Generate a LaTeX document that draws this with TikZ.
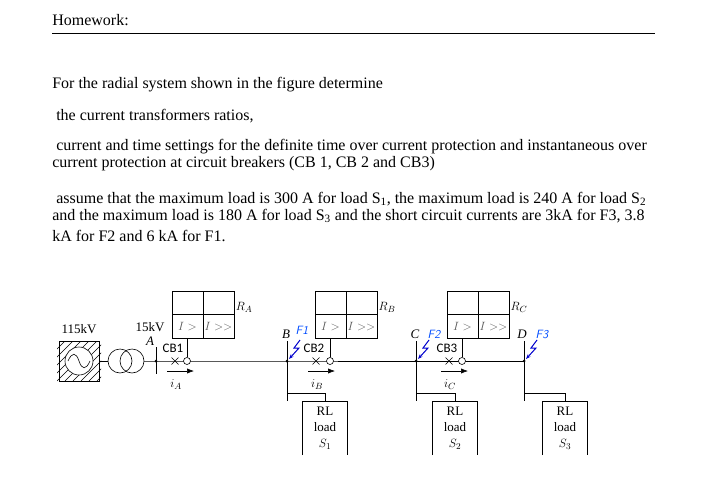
\documentclass[tikz,border=0pt]{standalone}
\usepackage{fontspec}
\setmainfont{Liberation Serif}
\newfontfamily\cbf{Carlito}
\usetikzlibrary{arrows.meta}
\begin{document}
\begin{tikzpicture}[x=1pt,y=-1pt,line width=0.6pt,
 txt/.style={anchor=west,inner sep=0,font=\fontsize{16}{18}\selectfont},
 lbl/.style={inner sep=0,font=\fontsize{13}{14}\selectfont},
 cb/.style={inner sep=0,font=\cbf\fontsize{13}{14}\selectfont},
 fl/.style={inner sep=0,text=blue!70!cyan,font=\sffamily\itshape\fontsize{12}{13}\selectfont},
 rel/.style={draw,minimum width=31,minimum height=23.5,inner sep=0,text=black!65,font=\itshape\fontsize{12}{13}\selectfont},
 load/.style={inner sep=0,align=center,font=\fontsize{13}{16}\selectfont},
 bolt/.style={blue!80!black,line width=1pt,-{Stealth[length=5pt]}},
 arr/.style={-{Latex[length=7pt]}}]
\useasboundingbox (0,0) rectangle (719,495);
\node[txt] (hw) at (52,20) {Homework:};
\draw (52,33) -- (655,33);
\node[txt] (t1) at (52,85) {For the radial system shown in the figure determine};
\node[txt] (t2) at (56,116) {the current transformers ratios,};
\node[txt] (t3) at (56,147) {current and time settings for the definite time over current protection and instantaneous over};
\node[txt] (t4) at (52,164) {current protection at circuit breakers (CB 1, CB 2 and CB3)};
\node[txt] (t5) at (56,199) {assume that the maximum load is 300 A for load S\textsubscript{1}, the maximum load is 240 A for load S\textsubscript{2}};
\node[txt] (t6) at (52,216) {and the maximum load is 180 A for load S\textsubscript{3} and the short circuit currents are 3kA for F3, 3.8};
\node[txt] (t7) at (52,236) {kA for F2 and 6 kA for F1.};
% source
\begin{scope}
\clip (57,341) rectangle (101,381);
\foreach \i in {-40,-32,...,50} \draw (57+\i,381) -- (97+\i,341);
\end{scope}
\node[draw,minimum size=40,inner sep=0] (src) at (79,361) {};
\node[circle,draw,fill=white,minimum size=28,inner sep=0] (gen) at (79,361) {};
\draw (68,361) .. controls (72,352) and (76,352) .. (79,361) .. controls (82,370) and (86,370) .. (90,361);
\node[lbl] (kv115) at (79,329) {115kV};
\node[circle,draw,minimum size=24,inner sep=0] (t1c) at (120,361) {};
\node[circle,draw,minimum size=24,inner sep=0] (t2c) at (132,361) {};
\draw (src.east) -- (t1c.west);
% buses
\coordinate (A) at (156,361); \coordinate (B) at (287,361);
\coordinate (C) at (416,361); \coordinate (D) at (524,361);
\draw (t2c.east) -- (A) -- (D);
\draw[thick] (156,347) -- (156,374);
\foreach \p in {A,B,C,D} \fill (\p) circle (1.5);
\node[lbl] (kv15) at (150,327) {15kV};
\node[lbl] (Al) at (150,341) {\itshape A};
\node[lbl] (Bl) at (286,334) {\itshape B};
\node[lbl] (Cl) at (415,334) {\itshape C};
\node[lbl] (Dl) at (522,334) {\itshape D};
\node[fl] (F1) at (302,330) {F1};
\node[fl] (F2) at (434,334) {F2};
\node[fl] (F3) at (542,334) {F3};
% breakers and relays
\foreach \n/\xc/\xo/\bx/\cbl/\il/\rl in {1/175/187/203/CB1/A/A,2/316/330/346/CB2/B/B,3/449/462/478/CB3/C/C}{
 \coordinate (x\n) at (\xc,361);
 \draw (x\n) ++(-3.5,-3.5) -- ++(7,7) (x\n) ++(-3.5,3.5) -- ++(7,-7);
 \node[circle,draw,fill=white,minimum size=7,inner sep=0] (o\n) at (\xo,361) {};
 \node[rel] (ra\n) at (\bx-15.5,303) {};
 \node[rel] (rb\n) at (\bx+15.5,303) {};
 \node[rel] (rc\n) at (\bx-15.5,326.5) {$I>$};
 \node[rel] (rd\n) at (\bx+15.5,326.5) {$I>>$};
 \draw (o\n) -- (o\n|-rc\n.south);
 \node[cb] (c\n) at (\xc-2,348) {\cbl};
 \draw[arr] (\xc-8,371) -- (\xc+19,371);
 \node[lbl] (i\n) at (\xc+1,385) {$i_{\il}$};
 \node[lbl] (r\n) at (\bx+41,307) {$R_{\rl}$};
}
% load buses
\foreach \b/\bl/\lx/\s in {B/l1/325/1,C/l2/455/2,D/l3/565/3}{
 \draw[thick] (\b) ++(0,-20) -- ++(0,60);
 \draw (\b) ++(0,32) -| (\lx,401);
 \draw (\lx-22.5,455) -- (\lx-22.5,401) -- (\lx+22.5,401) -- (\lx+22.5,455);
 \node[load] (\bl) at (\lx,428) {RL\\load\\$S_{\s}$};
}
% fault bolts
\foreach \x in {287,416,524}{
 \draw[bolt] (\x+13,340) -- (\x+7,348) -- (\x+12,348) -- (\x+2,359);
}
\end{tikzpicture}
\end{document}
